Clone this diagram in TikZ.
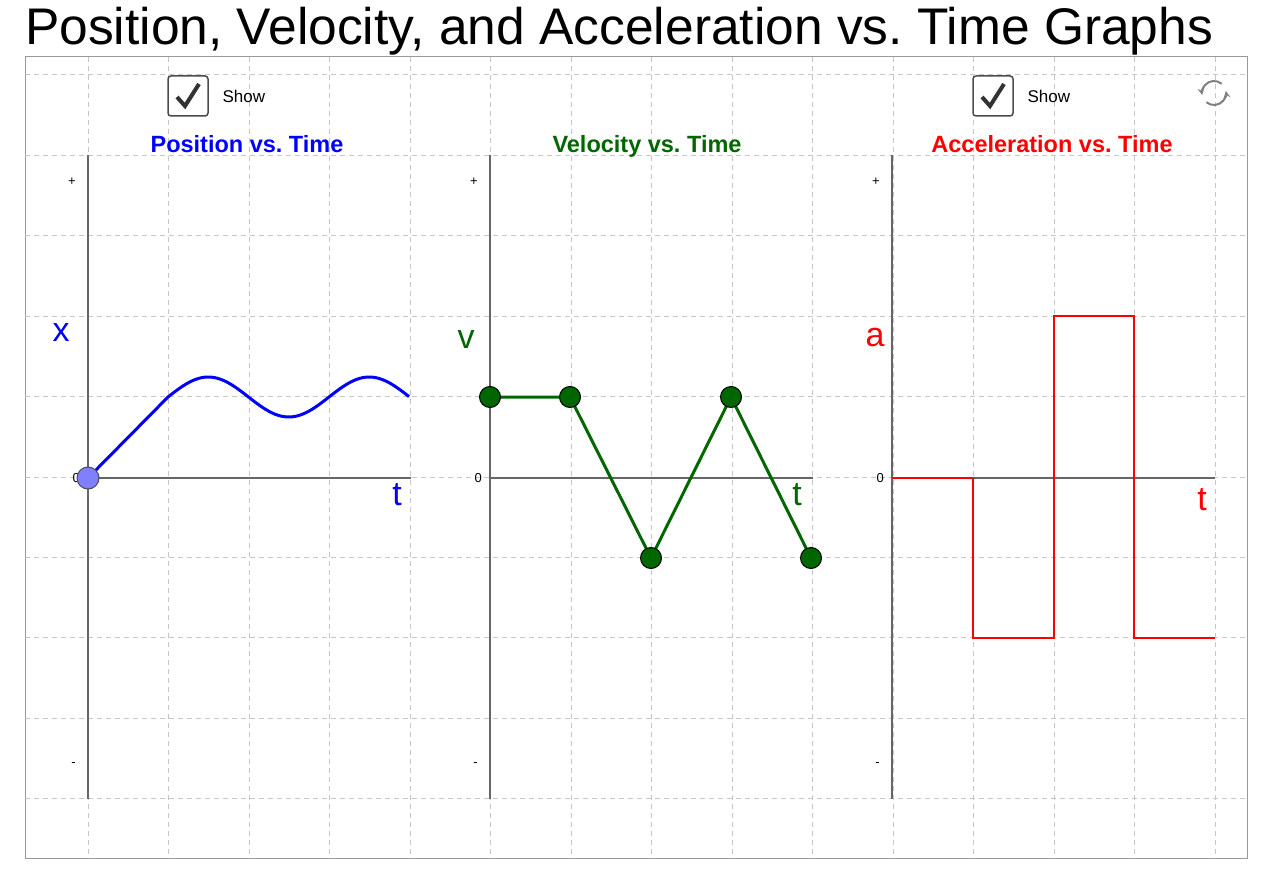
\documentclass[tikz,border=0pt]{standalone}
\usepackage{fontspec}
\setmainfont{Liberation Sans}
\frenchspacing
\begin{document}
\begin{tikzpicture}[x=1pt,y=-1pt,
  grid/.style={gray!45,dashed,line width=1pt,dash pattern=on 5pt off 4pt},
  axis/.style={black!60,line width=1.6pt},
  tick/.style={font=\fontsize{13}{13}\selectfont,anchor=east,inner sep=0},
  ptitle/.style={font=\bfseries\fontsize{23.5}{23.5}\selectfont,anchor=base,inner sep=0},
  lab/.style={font=\fontsize{34}{34}\selectfont},
  vdot/.style={circle,fill=green!40!black,draw=black,line width=1pt,minimum size=21pt,inner sep=0},
  cbox/.style={draw=black!70,line width=1.5pt,rounded corners=3pt,minimum size=40pt,inner sep=0}]
\useasboundingbox (0,0) rectangle (1263,872);
\node[anchor=base west,inner sep=0,font=\fontsize{51.5}{51.5}\selectfont] (title) at (25,45) {Position, Velocity, and Acceleration vs. Time Graphs};
\draw[black!40,line width=1pt] (25,57) rectangle (1247,858);
\foreach \i in {0,...,14} \draw[grid] ({88+80.5*\i},57) -- ({88+80.5*\i},858);
\foreach \j in {0,...,9} \draw[grid] (25,{75+80.4*\j}) -- (1247,{75+80.4*\j});
\foreach \ox/\n in {88/a,490/b,892/c}{
  \draw[axis] (\ox,155) -- (\ox,799);
  \draw[axis] (\ox,478) -- ({\ox+323},478);
  \node[tick] (p\n) at ({\ox-12},182) {+};
  \node[tick] (m\n) at ({\ox-12},765) {-};
  \node[tick] (z\n) at ({\ox-8},478) {0};
}
% position
\draw[blue,line width=3pt] (88,478) -- (168,397)
  plot[domain=0:241,samples=80,smooth] ({168+\x},{397-20*sin(2.236*\x)});
\node[circle,fill=blue!50!white,draw=black!70,line width=1pt,minimum size=22pt,inner sep=0] (pd) at (88,478) {};
% velocity
\draw[green!40!black,line width=3pt] (490,397) -- (570,397) -- (651,558) -- (731,397) -- (811,558);
\foreach \x/\y/\n in {490/397/1,570/397/2,651/558/3,731/397/4,811/558/5} \node[vdot] (v\n) at (\x,\y) {};
% acceleration
\draw[red,line width=2.5pt] (892,478) -- (973,478) -- (973,638) -- (1054,638) -- (1054,316) -- (1134,316) -- (1134,638) -- (1215,638);
% labels
\node[lab,text=blue] (lx) at (61,333) {x};
\node[lab,text=blue] (lt1) at (397,495) {t};
\node[lab,text=green!40!black] (lv) at (466,340) {v};
\node[lab,text=green!40!black] (lt2) at (797,495) {t};
\node[lab,text=red] (la) at (875,338) {a};
\node[lab,text=red] (lt3) at (1202,500) {t};
\node[ptitle,text=blue] (t1) at (247,153) {Position vs. Time};
\node[ptitle,text=green!40!black] (t2) at (647,153) {Velocity vs. Time};
\node[ptitle,text=red] (t3) at (1052,153) {Acceleration vs. Time};
% checkboxes
\foreach \cx/\n in {188/1,993/2}{
  \node[cbox,fill=white] (cb\n) at (\cx,96) {};
  \draw[black!80,line width=4pt] ({\cx-11},97) -- ({\cx-3},106) -- ({\cx+11},84);
  \node[anchor=west,font=\fontsize{17}{17}\selectfont] (s\n) at ({\cx+31},96) {Show};
}
% refresh icon
\node (ref) at (1214,93) {};
\draw[gray,line width=2pt,->,>=stealth] (1214,93) ++(130:12) arc (130:-10:12);
\draw[gray,line width=2pt,->,>=stealth] (1214,93) ++(-50:12) arc (-50:-190:12);
\end{tikzpicture}
\end{document}
